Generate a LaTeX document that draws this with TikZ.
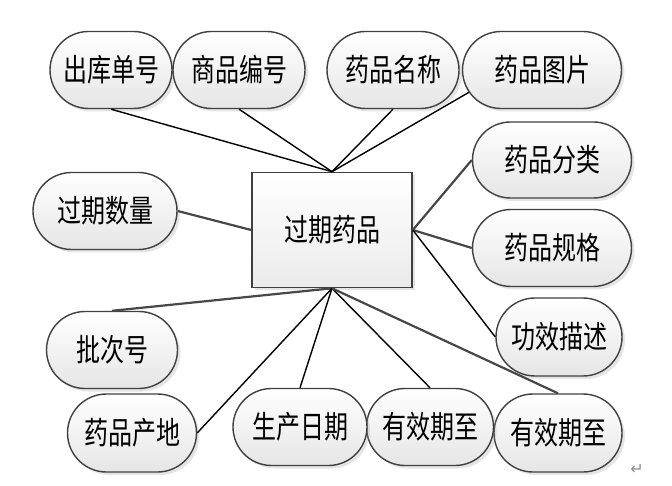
\documentclass[tikz,border=0pt]{standalone}
\usepackage{fontspec}
\usepackage{graphicx}
\newfontfamily\cjk{Noto Sans CJK SC}
\newfontfamily\dejavu{DejaVu Sans}
\newcommand{\stretchtxt}[1]{\scalebox{1}[1.3]{#1}}
\usetikzlibrary{shapes.misc,shadows}
\tikzset{
  attr/.style={rounded rectangle, draw=black!75, line width=1.4pt,
    top color=white, bottom color=black!10,
    drop shadow={shadow xshift=3pt, shadow yshift=-3pt, opacity=0.25, fill=black!40},
    inner sep=0pt, minimum height=77pt,
    font=\cjk\fontsize{24}{28}\selectfont},
  entity/.style={rectangle, draw=black!75, line width=1.6pt,
    top color=white, bottom color=black!8,
    drop shadow={shadow xshift=3pt, shadow yshift=-3pt, opacity=0.25, fill=black!40},
    minimum width=160pt, minimum height=115pt, inner sep=0pt,
    font=\cjk\fontsize{24}{28}\selectfont},
  thin/.style={draw=black, line width=1.4pt},
  thick/.style={draw=black!72, line width=2.2pt}
}
\begin{document}
\begin{tikzpicture}[x=1pt,y=-1pt]
\useasboundingbox (0,0) rectangle (672,486);
\node[entity] (m) at (332,230) {\stretchtxt{过期药品}};
\node[attr, minimum width=122pt] (a1) at (111,70) {\stretchtxt{出库单号}};
\node[attr, minimum width=132pt] (a2) at (239,70) {\stretchtxt{商品编号}};
\node[attr, minimum width=132pt] (a3) at (393,70) {\stretchtxt{药品名称}};
\node[attr, minimum width=159pt] (a4) at (542,70) {\stretchtxt{药品图片}};
\node[attr, minimum width=159pt, minimum height=76pt] (a5) at (552,160) {\stretchtxt{药品分类}};
\node[attr, minimum width=159pt] (a6) at (552,248) {\stretchtxt{药品规格}};
\node[attr, minimum width=126pt, minimum height=78pt] (a7) at (559,337) {\stretchtxt{功效描述}};
\node[attr, minimum width=128pt, minimum height=78pt] (a8) at (558,433) {\stretchtxt{有效期至}};
\node[attr, minimum width=127pt] (a9) at (430,427) {\stretchtxt{有效期至}};
\node[attr, minimum width=134pt] (a10) at (300,427) {\stretchtxt{生产日期}};
\node[attr, minimum width=129pt, minimum height=78pt] (a11) at (132,433) {\stretchtxt{药品产地}};
\node[attr, minimum width=131pt] (a12) at (112,350) {\stretchtxt{批次号}};
\node[attr, minimum width=144pt] (a13) at (105,211) {\stretchtxt{过期数量}};
\node[text=black!45, font=\dejavu\fontsize{16}{18}\selectfont] (ret) at (637,469) {↵};

\draw[thin] (a1.south) -- (m.north);
\draw[thin] (a2.south) -- (m.north);
\draw[thin] (a3.south) -- (m.north);
\draw[thin] (a4.197) -- (m.north);
\draw[thick] (m.east) -- (a5.west);
\draw[thick] (m.east) -- (a6.west);
\draw[thin] (m.east) -- (a7.west);
\draw[thick] (a13.east) -- (m.west);
\draw[thick] (a12.north) -- (m.south);
\draw[thin] (a11.east) -- (m.south);
\draw[thin] (a10.north) -- (m.south);
\draw[thin] (a9.north) -- (m.south);
\draw[thick] (a8.north) -- (m.south);
\end{tikzpicture}
\end{document}
